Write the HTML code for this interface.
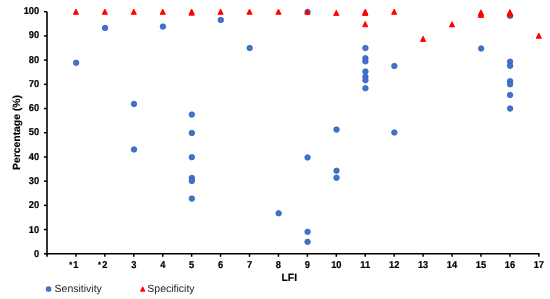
<!DOCTYPE html>
<html><head><meta charset="utf-8"><style>
html,body{margin:0;padding:0;background:#fff;width:550px;height:299px;overflow:hidden;}
svg{display:block;}
text{font-family:"Liberation Sans",Arial,sans-serif;text-rendering:geometricPrecision;}
.yl{font-size:10px;font-weight:bold;text-anchor:end;fill:#000;stroke:#000;stroke-width:0.22;}
.xl{font-size:10px;font-weight:bold;text-anchor:middle;fill:#000;stroke:#000;stroke-width:0.22;}
.ast{font-size:7.5px;font-weight:bold;text-anchor:middle;fill:#000;stroke:#000;stroke-width:0.15;}
.t{font-size:10.4px;font-weight:bold;fill:#000;stroke:#000;stroke-width:0.15;}
.tm{text-anchor:middle;}
.lg{font-size:10.5px;fill:#1e1e1e;}
</style></head><body>
<svg width="550" height="299" viewBox="0 0 550 299">
<line x1="47.0" y1="11.70" x2="47.0" y2="254.55" stroke="#000" stroke-width="1.6"/>
<line x1="46.25" y1="253.8" x2="539.56" y2="253.8" stroke="#000" stroke-width="1.6"/>
<line x1="44.00" y1="253.80" x2="47.0" y2="253.80" stroke="#000" stroke-width="1.5"/>
<text transform="translate(39.20,257.00) scale(0.93,1.0)" class="yl">0</text>
<line x1="44.00" y1="229.59" x2="47.0" y2="229.59" stroke="#000" stroke-width="1.5"/>
<text transform="translate(39.20,233.00) scale(0.93,1.0)" class="yl">10</text>
<line x1="44.00" y1="205.38" x2="47.0" y2="205.38" stroke="#000" stroke-width="1.5"/>
<text transform="translate(39.20,208.00) scale(0.93,1.0)" class="yl">20</text>
<line x1="44.00" y1="181.17" x2="47.0" y2="181.17" stroke="#000" stroke-width="1.5"/>
<text transform="translate(39.20,184.00) scale(0.93,1.0)" class="yl">30</text>
<line x1="44.00" y1="156.96" x2="47.0" y2="156.96" stroke="#000" stroke-width="1.5"/>
<text transform="translate(39.20,160.00) scale(0.93,1.0)" class="yl">40</text>
<line x1="44.00" y1="132.75" x2="47.0" y2="132.75" stroke="#000" stroke-width="1.5"/>
<text transform="translate(39.20,135.00) scale(0.93,1.0)" class="yl">50</text>
<line x1="44.00" y1="108.54" x2="47.0" y2="108.54" stroke="#000" stroke-width="1.5"/>
<text transform="translate(39.20,111.00) scale(0.93,1.0)" class="yl">60</text>
<line x1="44.00" y1="84.33" x2="47.0" y2="84.33" stroke="#000" stroke-width="1.5"/>
<text transform="translate(39.20,87.00) scale(0.93,1.0)" class="yl">70</text>
<line x1="44.00" y1="60.12" x2="47.0" y2="60.12" stroke="#000" stroke-width="1.5"/>
<text transform="translate(39.20,63.00) scale(0.93,1.0)" class="yl">80</text>
<line x1="44.00" y1="35.91" x2="47.0" y2="35.91" stroke="#000" stroke-width="1.5"/>
<text transform="translate(39.20,38.00) scale(0.93,1.0)" class="yl">90</text>
<line x1="44.00" y1="11.70" x2="47.0" y2="11.70" stroke="#000" stroke-width="1.5"/>
<text transform="translate(39.20,14.00) scale(0.93,1.0)" class="yl">100</text>
<line x1="47.00" y1="253.8" x2="47.00" y2="256.80" stroke="#000" stroke-width="1.6"/>
<line x1="75.93" y1="253.8" x2="75.93" y2="256.80" stroke="#000" stroke-width="1.5"/>
<text transform="translate(75.93,267.80) scale(0.93,1.0)" class="xl">1</text>
<text transform="translate(70.63,267.00)" class="ast">*</text>
<line x1="104.86" y1="253.8" x2="104.86" y2="256.80" stroke="#000" stroke-width="1.5"/>
<text transform="translate(104.86,267.80) scale(0.93,1.0)" class="xl">2</text>
<text transform="translate(99.56,267.00)" class="ast">*</text>
<line x1="133.79" y1="253.8" x2="133.79" y2="256.80" stroke="#000" stroke-width="1.5"/>
<text transform="translate(133.79,267.80) scale(0.93,1.0)" class="xl">3</text>
<line x1="162.72" y1="253.8" x2="162.72" y2="256.80" stroke="#000" stroke-width="1.5"/>
<text transform="translate(162.72,267.80) scale(0.93,1.0)" class="xl">4</text>
<line x1="191.65" y1="253.8" x2="191.65" y2="256.80" stroke="#000" stroke-width="1.5"/>
<text transform="translate(191.65,267.80) scale(0.93,1.0)" class="xl">5</text>
<line x1="220.58" y1="253.8" x2="220.58" y2="256.80" stroke="#000" stroke-width="1.5"/>
<text transform="translate(220.58,267.80) scale(0.93,1.0)" class="xl">6</text>
<line x1="249.51" y1="253.8" x2="249.51" y2="256.80" stroke="#000" stroke-width="1.5"/>
<text transform="translate(249.51,267.80) scale(0.93,1.0)" class="xl">7</text>
<line x1="278.44" y1="253.8" x2="278.44" y2="256.80" stroke="#000" stroke-width="1.5"/>
<text transform="translate(278.44,267.80) scale(0.93,1.0)" class="xl">8</text>
<line x1="307.37" y1="253.8" x2="307.37" y2="256.80" stroke="#000" stroke-width="1.5"/>
<text transform="translate(307.37,267.80) scale(0.93,1.0)" class="xl">9</text>
<line x1="336.30" y1="253.8" x2="336.30" y2="256.80" stroke="#000" stroke-width="1.5"/>
<text transform="translate(336.30,267.80) scale(0.93,1.0)" class="xl">10</text>
<line x1="365.23" y1="253.8" x2="365.23" y2="256.80" stroke="#000" stroke-width="1.5"/>
<text transform="translate(365.23,267.80) scale(0.93,1.0)" class="xl">11</text>
<line x1="394.16" y1="253.8" x2="394.16" y2="256.80" stroke="#000" stroke-width="1.5"/>
<text transform="translate(394.16,267.80) scale(0.93,1.0)" class="xl">12</text>
<line x1="423.09" y1="253.8" x2="423.09" y2="256.80" stroke="#000" stroke-width="1.5"/>
<text transform="translate(423.09,267.80) scale(0.93,1.0)" class="xl">13</text>
<line x1="452.02" y1="253.8" x2="452.02" y2="256.80" stroke="#000" stroke-width="1.5"/>
<text transform="translate(452.02,267.80) scale(0.93,1.0)" class="xl">14</text>
<line x1="480.95" y1="253.8" x2="480.95" y2="256.80" stroke="#000" stroke-width="1.5"/>
<text transform="translate(480.95,267.80) scale(0.93,1.0)" class="xl">15</text>
<line x1="509.88" y1="253.8" x2="509.88" y2="256.80" stroke="#000" stroke-width="1.5"/>
<text transform="translate(509.88,267.80) scale(0.93,1.0)" class="xl">16</text>
<line x1="538.81" y1="253.8" x2="538.81" y2="256.80" stroke="#000" stroke-width="1.5"/>
<text transform="translate(538.81,267.80) scale(0.93,1.0)" class="xl">17</text>
<circle cx="76.13" cy="62.79" r="2.75" fill="#4472C4" stroke="#3160CC" stroke-width="0.8"/>
<circle cx="105.06" cy="27.93" r="2.75" fill="#4472C4" stroke="#3160CC" stroke-width="0.8"/>
<circle cx="133.99" cy="103.95" r="2.75" fill="#4472C4" stroke="#3160CC" stroke-width="0.8"/>
<circle cx="133.99" cy="149.46" r="2.75" fill="#4472C4" stroke="#3160CC" stroke-width="0.8"/>
<circle cx="162.92" cy="26.60" r="2.75" fill="#4472C4" stroke="#3160CC" stroke-width="0.8"/>
<circle cx="191.85" cy="114.60" r="2.75" fill="#4472C4" stroke="#3160CC" stroke-width="0.8"/>
<circle cx="191.85" cy="133.00" r="2.75" fill="#4472C4" stroke="#3160CC" stroke-width="0.8"/>
<circle cx="191.85" cy="157.21" r="2.75" fill="#4472C4" stroke="#3160CC" stroke-width="0.8"/>
<circle cx="191.85" cy="177.91" r="2.75" fill="#4472C4" stroke="#3160CC" stroke-width="0.8"/>
<circle cx="191.85" cy="180.94" r="2.75" fill="#4472C4" stroke="#3160CC" stroke-width="0.8"/>
<circle cx="191.85" cy="198.61" r="2.75" fill="#4472C4" stroke="#3160CC" stroke-width="0.8"/>
<circle cx="220.78" cy="19.94" r="2.75" fill="#4472C4" stroke="#3160CC" stroke-width="0.8"/>
<circle cx="249.71" cy="48.02" r="2.75" fill="#4472C4" stroke="#3160CC" stroke-width="0.8"/>
<circle cx="278.64" cy="213.26" r="2.75" fill="#4472C4" stroke="#3160CC" stroke-width="0.8"/>
<circle cx="307.57" cy="11.95" r="2.75" fill="#4472C4" stroke="#3160CC" stroke-width="0.8"/>
<circle cx="307.57" cy="157.45" r="2.75" fill="#4472C4" stroke="#3160CC" stroke-width="0.8"/>
<circle cx="307.57" cy="231.85" r="2.75" fill="#4472C4" stroke="#3160CC" stroke-width="0.8"/>
<circle cx="307.57" cy="241.85" r="2.75" fill="#4472C4" stroke="#3160CC" stroke-width="0.8"/>
<circle cx="336.50" cy="129.61" r="2.75" fill="#4472C4" stroke="#3160CC" stroke-width="0.8"/>
<circle cx="336.50" cy="170.77" r="2.75" fill="#4472C4" stroke="#3160CC" stroke-width="0.8"/>
<circle cx="336.50" cy="177.79" r="2.75" fill="#4472C4" stroke="#3160CC" stroke-width="0.8"/>
<circle cx="365.43" cy="48.02" r="2.75" fill="#4472C4" stroke="#3160CC" stroke-width="0.8"/>
<circle cx="365.43" cy="58.19" r="2.75" fill="#4472C4" stroke="#3160CC" stroke-width="0.8"/>
<circle cx="365.43" cy="61.34" r="2.75" fill="#4472C4" stroke="#3160CC" stroke-width="0.8"/>
<circle cx="365.43" cy="71.51" r="2.75" fill="#4472C4" stroke="#3160CC" stroke-width="0.8"/>
<circle cx="365.43" cy="76.83" r="2.75" fill="#4472C4" stroke="#3160CC" stroke-width="0.8"/>
<circle cx="365.43" cy="80.22" r="2.75" fill="#4472C4" stroke="#3160CC" stroke-width="0.8"/>
<circle cx="365.43" cy="88.21" r="2.75" fill="#4472C4" stroke="#3160CC" stroke-width="0.8"/>
<circle cx="394.36" cy="66.06" r="2.75" fill="#4472C4" stroke="#3160CC" stroke-width="0.8"/>
<circle cx="394.36" cy="132.52" r="2.75" fill="#4472C4" stroke="#3160CC" stroke-width="0.8"/>
<circle cx="481.15" cy="48.51" r="2.75" fill="#4472C4" stroke="#3160CC" stroke-width="0.8"/>
<circle cx="510.08" cy="15.82" r="2.75" fill="#4472C4" stroke="#3160CC" stroke-width="0.8"/>
<circle cx="510.08" cy="61.70" r="2.75" fill="#4472C4" stroke="#3160CC" stroke-width="0.8"/>
<circle cx="510.08" cy="65.79" r="2.75" fill="#4472C4" stroke="#3160CC" stroke-width="0.8"/>
<circle cx="510.08" cy="81.19" r="2.75" fill="#4472C4" stroke="#3160CC" stroke-width="0.8"/>
<circle cx="510.08" cy="84.34" r="2.75" fill="#4472C4" stroke="#3160CC" stroke-width="0.8"/>
<circle cx="510.08" cy="94.99" r="2.75" fill="#4472C4" stroke="#3160CC" stroke-width="0.8"/>
<circle cx="510.08" cy="108.55" r="2.75" fill="#4472C4" stroke="#3160CC" stroke-width="0.8"/>
<polygon points="75.93,9.09 78.51,14.32 73.35,14.32" fill="#FF0000" stroke="#FF0000" stroke-width="0.9" stroke-linejoin="round"/>
<polygon points="104.86,9.09 107.44,14.32 102.28,14.32" fill="#FF0000" stroke="#FF0000" stroke-width="0.9" stroke-linejoin="round"/>
<polygon points="133.79,9.09 136.37,14.32 131.21,14.32" fill="#FF0000" stroke="#FF0000" stroke-width="0.9" stroke-linejoin="round"/>
<polygon points="162.72,9.09 165.30,14.32 160.14,14.32" fill="#FF0000" stroke="#FF0000" stroke-width="0.9" stroke-linejoin="round"/>
<polygon points="191.65,9.09 194.23,14.32 189.07,14.32" fill="#FF0000" stroke="#FF0000" stroke-width="0.9" stroke-linejoin="round"/>
<polygon points="191.65,10.05 194.23,15.28 189.07,15.28" fill="#FF0000" stroke="#FF0000" stroke-width="0.9" stroke-linejoin="round"/>
<polygon points="220.58,9.09 223.16,14.32 218.00,14.32" fill="#FF0000" stroke="#FF0000" stroke-width="0.9" stroke-linejoin="round"/>
<polygon points="249.51,9.09 252.09,14.32 246.93,14.32" fill="#FF0000" stroke="#FF0000" stroke-width="0.9" stroke-linejoin="round"/>
<polygon points="278.44,9.09 281.02,14.32 275.86,14.32" fill="#FF0000" stroke="#FF0000" stroke-width="0.9" stroke-linejoin="round"/>
<polygon points="307.37,9.09 309.95,14.32 304.79,14.32" fill="#FF0000" stroke="#FF0000" stroke-width="0.9" stroke-linejoin="round"/>
<polygon points="336.30,10.30 338.88,15.53 333.72,15.53" fill="#FF0000" stroke="#FF0000" stroke-width="0.9" stroke-linejoin="round"/>
<polygon points="365.23,9.09 367.81,14.32 362.65,14.32" fill="#FF0000" stroke="#FF0000" stroke-width="0.9" stroke-linejoin="round"/>
<polygon points="365.23,10.30 367.81,15.53 362.65,15.53" fill="#FF0000" stroke="#FF0000" stroke-width="0.9" stroke-linejoin="round"/>
<polygon points="365.23,21.53 367.81,26.76 362.65,26.76" fill="#FF0000" stroke="#FF0000" stroke-width="0.9" stroke-linejoin="round"/>
<polygon points="394.16,9.09 396.74,14.32 391.58,14.32" fill="#FF0000" stroke="#FF0000" stroke-width="0.9" stroke-linejoin="round"/>
<polygon points="423.09,36.20 425.67,41.43 420.51,41.43" fill="#FF0000" stroke="#FF0000" stroke-width="0.9" stroke-linejoin="round"/>
<polygon points="452.02,21.67 454.60,26.90 449.44,26.90" fill="#FF0000" stroke="#FF0000" stroke-width="0.9" stroke-linejoin="round"/>
<polygon points="480.95,9.81 483.53,15.04 478.37,15.04" fill="#FF0000" stroke="#FF0000" stroke-width="0.9" stroke-linejoin="round"/>
<polygon points="480.95,11.02 483.53,16.25 478.37,16.25" fill="#FF0000" stroke="#FF0000" stroke-width="0.9" stroke-linejoin="round"/>
<polygon points="480.95,12.23 483.53,17.46 478.37,17.46" fill="#FF0000" stroke="#FF0000" stroke-width="0.9" stroke-linejoin="round"/>
<polygon points="509.88,9.57 512.46,14.80 507.30,14.80" fill="#FF0000" stroke="#FF0000" stroke-width="0.9" stroke-linejoin="round"/>
<polygon points="509.88,10.54 512.46,15.77 507.30,15.77" fill="#FF0000" stroke="#FF0000" stroke-width="0.9" stroke-linejoin="round"/>
<polygon points="509.88,11.51 512.46,16.74 507.30,16.74" fill="#FF0000" stroke="#FF0000" stroke-width="0.9" stroke-linejoin="round"/>
<polygon points="538.81,33.05 541.39,38.28 536.23,38.28" fill="#FF0000" stroke="#FF0000" stroke-width="0.9" stroke-linejoin="round"/>
<text transform="translate(289.30,281.00)" class="t tm">LFI</text>
<text transform="translate(19.60,132.50) rotate(-90)" class="t tm">Percentage (%)</text>
<circle cx="48.6" cy="289.0" r="2.85" fill="#4472C4"/>
<text transform="translate(54.60,291.80)" class="lg">Sensitivity</text>
<polygon points="142.70,286.79 144.88,291.21 140.52,291.21" fill="#FF0000" stroke="#FF0000" stroke-width="0.9" stroke-linejoin="round"/>
<text transform="translate(147.30,291.80)" class="lg">Specificity</text>
</svg>
</body></html>
